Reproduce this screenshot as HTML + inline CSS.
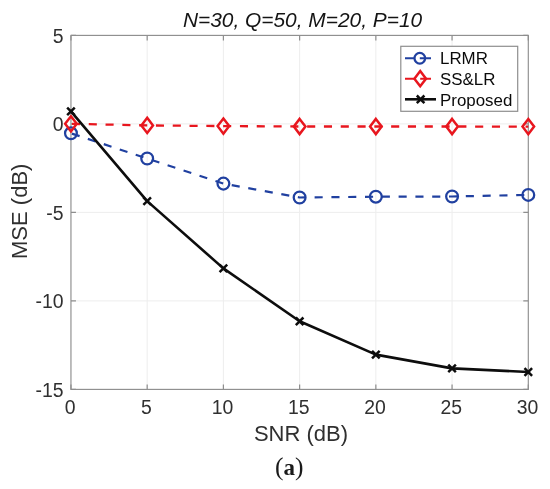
<!DOCTYPE html>
<html><head><meta charset="utf-8"><title>MSE vs SNR</title>
<style>
html,body{margin:0;padding:0;background:#fff;width:550px;height:489px;overflow:hidden}
svg{display:block}
text{font-family:"Liberation Sans",Arial,Helvetica,sans-serif;fill:#303030}
</style></head><body>
<svg width="550" height="489" viewBox="0 0 550 489">
<path d="M147.18 35.40V389.40M223.40 35.40V389.40M299.62 35.40V389.40M375.85 35.40V389.40M452.07 35.40V389.40M70.95 123.90H528.30M70.95 212.40H528.30M70.95 300.90H528.30" stroke="#ededed" stroke-width="1" fill="none"/>
<path d="M70.95 389.40v-5M70.95 35.40v5M147.18 389.40v-5M147.18 35.40v5M223.40 389.40v-5M223.40 35.40v5M299.62 389.40v-5M299.62 35.40v5M375.85 389.40v-5M375.85 35.40v5M452.07 389.40v-5M452.07 35.40v5M528.30 389.40v-5M528.30 35.40v5M70.95 389.40h5M528.30 389.40h-5M70.95 300.90h5M528.30 300.90h-5M70.95 212.40h5M528.30 212.40h-5M70.95 123.90h5M528.30 123.90h-5M70.95 35.40h5M528.30 35.40h-5" stroke="#8e8e8e" stroke-width="1.2" fill="none"/>
<rect x="70.95" y="35.40" width="457.35" height="354.00" stroke="#8e8e8e" stroke-width="1.15" fill="none"/>
<polyline points="70.95,133.30 147.18,158.50 223.40,183.60 299.62,197.50 375.85,196.70 452.07,196.50 528.30,194.90" stroke="#2040a0" stroke-width="2.2" fill="none" stroke-dasharray="8.1 8.7" stroke-dashoffset="-1"/>
<circle cx="70.95" cy="133.30" r="5.9" stroke="#2040a0" stroke-width="2.25" fill="none"/>
<circle cx="147.18" cy="158.50" r="5.9" stroke="#2040a0" stroke-width="2.25" fill="none"/>
<circle cx="223.40" cy="183.60" r="5.9" stroke="#2040a0" stroke-width="2.25" fill="none"/>
<circle cx="299.62" cy="197.50" r="5.9" stroke="#2040a0" stroke-width="2.25" fill="none"/>
<circle cx="375.85" cy="196.70" r="5.9" stroke="#2040a0" stroke-width="2.25" fill="none"/>
<circle cx="452.07" cy="196.50" r="5.9" stroke="#2040a0" stroke-width="2.25" fill="none"/>
<circle cx="528.30" cy="194.90" r="5.9" stroke="#2040a0" stroke-width="2.25" fill="none"/>
<polyline points="70.95,123.80 147.18,125.40 223.40,126.10 299.62,126.50 375.85,126.50 452.07,126.50 528.30,126.60" stroke="#e8161e" stroke-width="2.3" fill="none" stroke-dasharray="8.1 8.7" stroke-dashoffset="-1"/>
<path d="M70.95 116.20L76.75 123.80L70.95 131.40L65.15 123.80Z" stroke="#e8161e" stroke-width="2.5" fill="none"/>
<path d="M147.18 117.80L152.98 125.40L147.18 133.00L141.38 125.40Z" stroke="#e8161e" stroke-width="2.5" fill="none"/>
<path d="M223.40 118.50L229.20 126.10L223.40 133.70L217.60 126.10Z" stroke="#e8161e" stroke-width="2.5" fill="none"/>
<path d="M299.62 118.90L305.43 126.50L299.62 134.10L293.82 126.50Z" stroke="#e8161e" stroke-width="2.5" fill="none"/>
<path d="M375.85 118.90L381.65 126.50L375.85 134.10L370.05 126.50Z" stroke="#e8161e" stroke-width="2.5" fill="none"/>
<path d="M452.07 118.90L457.88 126.50L452.07 134.10L446.27 126.50Z" stroke="#e8161e" stroke-width="2.5" fill="none"/>
<path d="M528.30 119.00L534.10 126.60L528.30 134.20L522.50 126.60Z" stroke="#e8161e" stroke-width="2.5" fill="none"/>
<polyline points="70.95,111.40 147.18,201.10 223.40,268.40 299.62,321.30 375.85,354.60 452.07,368.40 528.30,372.00" stroke="#0d0d0d" stroke-width="2.6" fill="none" stroke-linejoin="round"/>
<path d="M67.15 107.60l7.6 7.6M67.15 115.20l7.6 -7.6" stroke="#0d0d0d" stroke-width="2.5" fill="none"/>
<path d="M143.38 197.30l7.6 7.6M143.38 204.90l7.6 -7.6" stroke="#0d0d0d" stroke-width="2.5" fill="none"/>
<path d="M219.60 264.60l7.6 7.6M219.60 272.20l7.6 -7.6" stroke="#0d0d0d" stroke-width="2.5" fill="none"/>
<path d="M295.82 317.50l7.6 7.6M295.82 325.10l7.6 -7.6" stroke="#0d0d0d" stroke-width="2.5" fill="none"/>
<path d="M372.05 350.80l7.6 7.6M372.05 358.40l7.6 -7.6" stroke="#0d0d0d" stroke-width="2.5" fill="none"/>
<path d="M448.27 364.60l7.6 7.6M448.27 372.20l7.6 -7.6" stroke="#0d0d0d" stroke-width="2.5" fill="none"/>
<path d="M524.50 368.20l7.6 7.6M524.50 375.80l7.6 -7.6" stroke="#0d0d0d" stroke-width="2.5" fill="none"/>
<text x="70.15" y="413.8" font-size="19.4" text-anchor="middle">0</text>
<text x="146.38" y="413.8" font-size="19.4" text-anchor="middle">5</text>
<text x="222.60" y="413.8" font-size="19.4" text-anchor="middle">10</text>
<text x="298.82" y="413.8" font-size="19.4" text-anchor="middle">15</text>
<text x="375.05" y="413.8" font-size="19.4" text-anchor="middle">20</text>
<text x="451.27" y="413.8" font-size="19.4" text-anchor="middle">25</text>
<text x="527.50" y="413.8" font-size="19.4" text-anchor="middle">30</text>
<text x="63.6" y="396.70" font-size="19.4" text-anchor="end">-15</text>
<text x="63.6" y="308.20" font-size="19.4" text-anchor="end">-10</text>
<text x="63.6" y="219.70" font-size="19.4" text-anchor="end">-5</text>
<text x="63.6" y="131.20" font-size="19.4" text-anchor="end">0</text>
<text x="63.6" y="42.70" font-size="19.4" text-anchor="end">5</text>
<text x="301" y="440.7" font-size="22" text-anchor="middle">SNR (dB)</text>
<text transform="translate(26.8 211.3) rotate(-90)" font-size="22" text-anchor="middle">MSE (dB)</text>
<text x="302.5" y="26.5" font-size="20.9" font-style="italic" text-anchor="middle" style="fill:#141414">N=30, Q=50, M=20, P=10</text>
<rect x="400.8" y="46.3" width="116.9" height="65.0" fill="#fff" stroke="#8e8e8e" stroke-width="1.2"/>
<path d="M405 58.2H414.6M419.8 58.2H431" stroke="#2040a0" stroke-width="2"/><circle cx="419.8" cy="58.2" r="5.3" stroke="#2040a0" stroke-width="2.25" fill="none"/>
<path d="M405 78.7H414.4M420.2 78.7H431" stroke="#e8161e" stroke-width="2.1"/><path d="M420.20 71.10L426.00 78.70L420.20 86.30L414.40 78.70Z" stroke="#e8161e" stroke-width="2.5" fill="none"/>
<path d="M405 99.3H436" stroke="#0d0d0d" stroke-width="2.6"/><path d="M416.80 95.50l7.6 7.6M416.80 103.10l7.6 -7.6" stroke="#0d0d0d" stroke-width="2.5" fill="none"/>
<text x="440" y="64.4" font-size="16.9" style="fill:#0a0a0a">LRMR</text>
<text x="440" y="85" font-size="16.9" style="fill:#0a0a0a">SS&amp;LR</text>
<text x="440" y="105.5" font-size="16.9" style="fill:#0a0a0a">Proposed</text>
<text x="289.3" y="475" font-size="25.5" text-anchor="middle" style="font-family:'Liberation Serif','Times New Roman',serif;fill:#1a1a1a">(<tspan font-weight="bold" font-size="23">a</tspan>)</text>
</svg>
</body></html>
